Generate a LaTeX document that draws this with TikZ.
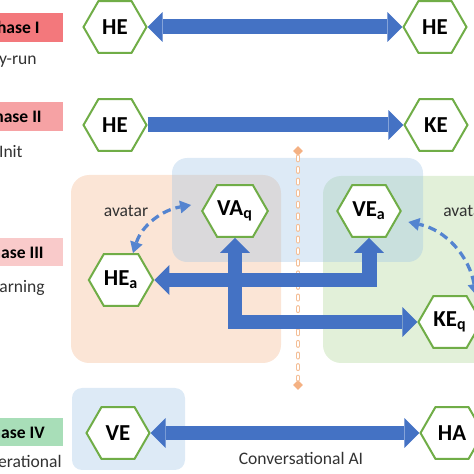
\documentclass[tikz,border=0pt]{standalone}
\usepackage{fontspec}
\setmainfont{Carlito}
\usetikzlibrary{shapes.symbols,shapes.geometric,arrows.meta}
\definecolor{arrowblue}{RGB}{68,114,196}
\definecolor{dashblue}{RGB}{84,132,208}
\definecolor{hexgreen}{RGB}{112,173,71}
\definecolor{peach}{RGB}{251,229,214}
\definecolor{lightgreen}{RGB}{226,240,217}
\definecolor{boxblue}{RGB}{157,195,230}
\definecolor{orangelight}{RGB}{244,190,150}
\definecolor{orangedot}{RGB}{244,177,131}
\definecolor{phaseI}{RGB}{243,120,124}
\definecolor{phaseII}{RGB}{246,162,164}
\definecolor{phaseIII}{RGB}{249,202,202}
\definecolor{phaseIV}{RGB}{168,222,184}
\definecolor{labelgray}{RGB}{50,50,50}
\begin{document}
\begin{tikzpicture}[x=0.02cm,y=0.02cm,
  hexa/.style={signal, signal to=east and west, signal pointer angle=120,
    draw=hexgreen, line width=0.04cm, fill=white, minimum width=1.26cm,
    minimum height=1.04cm, inner sep=0pt,
    font=\fontsize{13}{15}\selectfont\bfseries},
  bigarrow/.style={draw=arrowblue, line width=0.3cm,
    >={Triangle[length=0.3cm,width=0.6cm,line width=0pt]}},
  avatar/.style={draw=dashblue, line width=0.065cm, dash pattern=on 0.17cm off 0.1cm,
    arrows={Triangle[length=0.22cm,width=0.26cm,line width=0pt]-Triangle[length=0.22cm,width=0.26cm,line width=0pt]}},
  phasebox/.style={inner sep=0pt, minimum width=2.46cm, minimum height=0.58cm},
  phasetext/.style={anchor=east, inner sep=0pt, font=\fontsize{10}{12}\selectfont\bfseries},
  subtext/.style={anchor=east, inner sep=0pt, text=labelgray, font=\fontsize{10}{12}\selectfont},
  plaintext/.style={inner sep=0pt, text=labelgray, font=\fontsize{10}{12}\selectfont},
  odiamond/.style={diamond, fill=orangedot, inner sep=0pt, minimum size=0.2cm},
  odash/.style={draw=orangelight, double=white, double distance=0.04cm, line width=0.02cm,
    line cap=round, dash pattern=on 0.08cm off 0.152cm}
]
\useasboundingbox (0,0) rectangle (474,474);
\clip (0,0) rectangle (474,474);

% phase labels
\node[phasebox, fill=phaseI] (b1) at (1.5,446.5) {};
\node[phasetext] (t1) at (40,446.5) {Phase I};
\node[subtext] (s1) at (37,414) {Dry-run};
\node[phasebox, fill=phaseII] (b2) at (1.5,357.5) {};
\node[phasetext] (t2) at (42,357.5) {Phase II};
\node[subtext] (s2) at (23,322) {Init};
\node[phasebox, fill=phaseIII] (b3) at (1.5,222) {};
\node[phasetext] (t3) at (44,222) {Phase III};
\node[subtext] (s3) at (45,186) {Learning};
\node[phasebox, fill=phaseIV] (b4) at (2,42) {};
\node[phasetext] (t4) at (45,42) {Phase IV};
\node[subtext] (s4) at (62,11) {Operational};

% regions
\fill[peach, rounded corners=0.36cm] (71,111) rectangle (281,299);
\fill[lightgreen, rounded corners=0.36cm] (323,111) rectangle (520,298);
\fill[boxblue, fill opacity=0.35, rounded corners=0.3cm] (172,212) rectangle (423,316);
\fill[boxblue, fill opacity=0.35, rounded corners=0.2cm] (72,4) rectangle (185,86);

% divider
\node[odiamond] (dtop) at (298,323) {};
\node[odiamond] (dbot) at (298,89) {};
\draw[odash] (dtop) -- (dbot);

% hexagons
\node[hexa] (HE1) at (115,447) {HE};
\node[hexa] (HE2) at (435,447) {HE};
\node[hexa] (HE3) at (115,349) {HE};
\node[hexa] (KE) at (436,349) {KE};
\node[hexa] (VAq) at (235,263) {VA\textsubscript{q}};
\node[hexa] (VEa) at (369,263) {VE\textsubscript{a}};
\node[hexa] (HEa) at (121,194) {HE\textsubscript{a}};
\node[hexa] (KEq) at (450,152) {KE\textsubscript{q}};
\node[hexa] (VE) at (118,41) {VE};
\node[hexa] (HA) at (452,41) {HA};

% thick arrows
\draw[bigarrow,<->] (HE1.east) -- (HE2.west);
\draw[bigarrow,->] (HE3.east) -- (KE.west);
\draw[bigarrow,<->] (HEa.east) -| (VEa.south);
\draw[bigarrow,<->] (VAq.south) |- (KEq.west);
\draw[bigarrow,<->] (VE.east) -- (HA.west);

% avatar arrows
\draw[avatar] ([xshift=0.24cm]HEa.north) to[out=72,in=190] ([xshift=-0.2cm,yshift=0.12cm]VAq.west);
\draw[avatar] ([xshift=0.52cm]KEq.north) to[out=100,in=-12] ([xshift=0.13cm,yshift=-0.22cm]VEa.east);
\node[plaintext] (av1) at (126,263) {avatar};
\node[plaintext, anchor=west] (av2) at (443,263) {avatar};
\node[plaintext] (cai) at (301,16) {Conversational AI};
\end{tikzpicture}
\end{document}
